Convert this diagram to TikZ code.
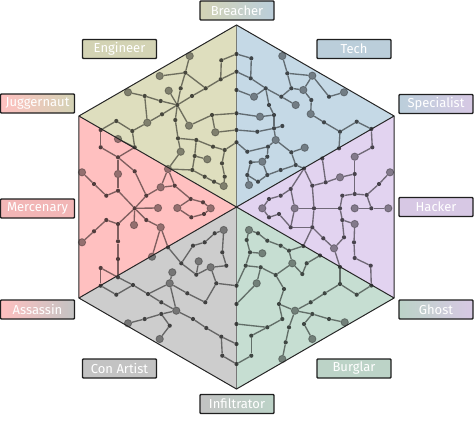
\documentclass[tikz,border=0pt]{standalone}
\usepackage{fontspec}
\setmainfont{Fira Sans}
\definecolor{cEng}{RGB}{222,222,190}
\definecolor{cTech}{RGB}{197,217,230}
\definecolor{cHack}{RGB}{226,211,240}
\definecolor{cBurg}{RGB}{198,222,210}
\definecolor{cCon}{RGB}{205,205,205}
\definecolor{cMerc}{RGB}{255,192,192}
\begin{document}
\begin{tikzpicture}[x=1pt,y=-1pt,
 dot/.style={circle,inner sep=0pt,minimum size=4.2pt,fill=black,fill opacity=0.68},
 bigdot/.style={circle,inner sep=0pt,minimum size=7.5pt,fill=black,fill opacity=0.42,draw=black,draw opacity=0.3,line width=0.8pt},
 link/.style={draw=black,draw opacity=0.5,line width=1.35pt},
 lbl/.style={rectangle,draw=black!88,line width=1.4pt,minimum width=74pt,minimum height=19pt,inner sep=0pt,text=white,font=\fontsize{13}{13}\selectfont,rounded corners=0.8pt},
 edge/.style={draw=black!85,line width=1pt}]
\useasboundingbox (0,0) rectangle (474,436);
\coordinate (C) at (236.5,207);
\coordinate (T) at (236.5,25);
\coordinate (UR) at (394.1,116);
\coordinate (LR) at (394.1,298);
\coordinate (B) at (236.5,389);
\coordinate (LL) at (78.9,298);
\coordinate (UL) at (78.9,116);
\fill[cEng] (T) -- (UL) -- (C) -- cycle;
\fill[cTech] (T) -- (UR) -- (C) -- cycle;
\fill[cHack] (UR) -- (LR) -- (C) -- cycle;
\fill[cBurg] (LR) -- (B) -- (C) -- cycle;
\fill[cCon] (B) -- (LL) -- (C) -- cycle;
\fill[cMerc] (LL) -- (UL) -- (C) -- cycle;
% small nodes
\foreach \n/\x/\y in {e2/185.3/72.7, e4/205.7/88.3, e5/221.3/60.3, e6/220.7/79.3, e7/236.5/71.7, e8/236.5/54, e10/144.7/96, e11/160.7/101, e13/180.7/88.3, e14/192/96, eh/177.3/105, e15/162/114.3, e17/132.3/131, e18/116.3/121, e19/100.7/130, e20/175.3/120, e22/212/115, e23/236.5/113.3, e25/236.5/130, e26/236.5/142.3, e27/178/138.3, e28/196.3/140, e30/194.7/156, e32/213/146.7, e33/224.7/150, e34/222/163.3, e35/214/181.7, e36/224.7/176.7, e38/192.3/170, e39/204.7/176.7,
 m3/100.7/147.3, m4/118/157.3, m5/134.7/147.3, m7/94/184, m8/106.3/195.7, m9/118/190.7, m11/134.7/171.3, m12/146.3/195.7, m15/174.7/185.7, mh/134.7/208.3, m18/146.3/220, m20/118/224, m21/106.3/220, m22/94/231.3, m24/118/241.3, m25/118/259, m26/100.7/268, m27/100.7/285.7, m28/118/277.3, m30/168/247.3, m32/190.7/199, m33/203/202.3, m35/204/214, m36/191.3/217.3,
 t2/287.3/73.3, t5/291.3/88.3, t6/281.3/96.7, t8/311.3/100, t9/329/96.7, t12/324/122.3, t13/340/131.7, t14/356.7/121.7, t15/371.3/129, t16/339/148.3, t17/251.3/58.3, t19/250.7/78.3, t20/236.5/90, t21/265.7/88.3, t23/269/105, t24/274/115, t27/274/128.3, t28/282.3/126, t30/257.3/131.7, t32/247.3/151.7, t33/268/146.7, t34/291.3/152.3, t36/267.3/156.7, t38/250.7/162.3, t39/247.3/175, t40/258/181.7, t42/267.3/175, t43/280.7/170, t44/295.7/165,
 h1/372.3/147.3, h4/354.7/174, h6/325.7/182.3, h7/322.3/158.5, h8/312.3/185.7, h9/304/168.5, h10/342.3/195.7, h11/354.7/194, h12/366.7/195, h13/379/184, h16/371.3/208.3, h18/340/208.3, h19/314/208.3, h22/269/199, h23/280.7/195.7, h24/290.7/189, h25/279/214, h26/269/217.3, h27/290.7/227.3, h28/312.3/227.3, h29/323.3/238.3, h31/342.3/220, h33/344/237.3, h34/354/242.3, h35/354.7/258, h36/370.7/265.7, h39/303.3/246,
 b2/258/233.3, b3/246.7/240, b4/250/252.3, b6/267.3/240.7, b7/280.7/245.7, b8/289/250.7, b10/302.3/274, b11/306.7/263.3, b13/320/255.5, b14/245.7/265.7, b15/260.7/267.3, b16/275.7/275, b18/236.5/285.7, b19/284/289, b20/279/304, b22/310.7/302.3, b23/324.7/293.3, b24/340/284, b25/340/267, b26/356.7/294.7, b27/371.3/285.5, b28/312.3/314, b29/329/319, b31/304/324, b33/282.3/319, b34/289/327.3, b35/267.3/327.3, b36/251.3/335.7, b37/251.3/355.7, b38/236.5/364, b39/285.7/342.3, b41/236.5/304, b42/236.5/324, b43/236.5/344,
 c2/181.3/263.3, c4/196.3/274.7, c6/193/245.7, c7/204.7/242.3, c8/214.7/233.3, c10/222.3/252.3, c11/226.3/265.7, c13/216.3/283.3, c17/116.3/294.7, c18/133/285, c19/148/294, c21/187.3/293.3, c22/205.3/302.3, c23/161.3/302.3, c25/161.3/314, c26/169.7/325.7, c28/144.7/319, c30/193/319, c31/206.3/328, c32/221.3/336.7, c34/222.3/355.7}
  \node[dot] (\n) at (\x,\y) {};
% big nodes
\foreach \n/\x/\y in {e1/189.7/56, e3/159.7/76, e9/128/92.3, e12/168.7/90.7, e16/147.3/122.7, e21/189/125.7, e24/215.3/132.3, e29/180.7/151.7, e31/207.3/159.3, e37/223.7/186, e40/168/169,
 m1/118/139, m6/82/172.3, m10/118/174, m13/160.7/187.3, m16/158/208, m17/134/225, m19/160.7/227.3, m23/82/242.3, m29/152/256.7, m31/177.3/208, m34/210.7/208.3,
 t1/282.3/56, t3/312.3/75.7, t4/303.3/90, t7/295.7/105, t10/344/92.3, t11/310.7/114, t22/254/96.7, t25/260/116.7, t29/275.7/140, t35/304.7/147.7, t37/262.3/161.7, t41/249/185,
 h3/354.7/156.7, h5/340/177.3, h14/390/172.3, h15/354.7/208.3, h17/388.3/208.3, h20/294.7/208.3, h21/262.3/208.3, h30/334/248.3, h32/354.7/224,
 b1/249/230, b5/262.3/253.3, b9/292.3/263.3, b17/256.7/283.3, b21/295/310.7, b30/344.7/322.3, b32/312.3/339, b40/282.3/359,
 c3/172.3/272.3, c5/198.7/261.3, c9/223.7/230, c12/210.7/267.3, c20/169.7/283.3, c24/176.3/310.7, c27/159.7/339, c29/128/323.3}
  \node[bigdot] (\n) at (\x,\y) {};
% connectors
\foreach \a/\b in {e1/e2, e2/e3, e2/e4, e4/e6, e6/e5, e5/e8, e6/e7, e2/e13, e13/eh, e12/eh, eh/e14, e14/e4, eh/e11, e11/e10, e10/e9, e10/e16, eh/e15, e15/e16, e16/e17, e17/e18, e18/e19, eh/e20, e20/e27, e27/e29, eh/e21, e21/e22, e22/e23, e22/e24, e24/e25, e27/e28, e28/e32, e32/e33, e33/e26, e33/e34, e34/e36, e36/e37, e28/e30, e30/e31, e30/e38, e38/e39, e39/e35, e35/e37, e29/e40, e40/e38, e17/m5,
 e19/m3, m3/m4, m1/m5, m4/m5, m4/m10, m10/m9, m9/m8, m8/m7, m7/m6, m4/m11, m11/m12, m12/mh, m12/m13, m13/e40, e40/m15, m15/m13, mh/m9, mh/m16, mh/m17, mh/m18, mh/m20, m20/m21, m21/m22, m22/m23, m20/m24, m24/m25, m25/m28, m28/m26, m26/m27, m18/m19, m19/m30, m15/m32, m31/m32, m32/m33, m33/m34, m34/m35, m35/m36, m36/m31, m19/m29,
 t1/t2, t2/t3, t2/t5, t3/t4, t3/t9, t9/t10, t4/t5, t5/t6, t4/t8, t6/t7, t8/t11, t11/t12, t12/t13, t13/t14, t14/t15, t13/t16, e8/t17, t17/t19, t19/e7, t19/t21, t21/t6, t21/t22, t22/t20, t21/t23, t23/t24, t24/t25, t25/e23, t24/t27, t27/t28, t27/t30, t30/e25, t27/t29, t29/t33, t33/t32, t32/e26, t33/t36, t36/t37, t29/t34, t34/t35, t34/t44, t44/h9, t44/t43, t43/t42, t42/t37, t37/t38, t38/t39, t39/t41, t39/t40, t40/t42,
 t15/h1, h1/h3, h3/h4, h4/h5, h5/h6, h6/h7, h6/h8, h8/h9, h8/h19, h19/h28, h4/h11, h11/h10, h10/h18, h11/h12, h12/h13, h13/h14, h12/h16, h15/h16, h16/h17, h19/h18, h20/h19, h20/h24, h24/h9, h24/h23, h23/h22, h22/h21, h21/h26, h26/h25, h25/h27, h20/h27, h27/h28, h28/h29, h29/h30, h30/b25, h18/h31, h31/h32, h32/h34, h34/h35, h35/h36, h36/b27, h31/h33, h33/h30, h28/h39,
 b1/b2, b1/b3, b3/b4, b4/b5, b2/b6, b6/b7, b7/b8, b8/b9, b9/b10, b10/b11, b11/b13, b8/h39, b4/b14, b14/b15, b15/b16, b16/b9, b14/b18, b15/b17, b16/b19, b19/b20, b20/b21, b21/b22, b22/b23, b23/b24, b24/b25, b24/b26, b26/b27, b21/b28, b28/b29, b29/b30, b21/b34, b34/b39, b39/b40, b20/b33, b33/b35, b35/b36, b36/b37, b37/b38, b17/b41, b35/b42, b28/b31, b31/b32,
 m30/c2, c2/c4, c4/c5, c4/c12, c2/c6, c6/c7, c7/c8, c8/c9, c9/c10, c10/c11, c11/c12, c12/c13, c13/b18, m27/c17, c17/c18, m28/c18, c18/c19, c19/c20, c20/c3, c20/c21, c21/c22, c22/c13, c19/c23, c23/c24, c20/c24, c24/c30, c30/c31, c31/c32, c32/b43, c32/c34, c34/b38, c24/c25, c25/c26, c26/c27, c25/c28, c28/c29}
  \draw[link] (\a) -- (\b);
% hexagon outline and spokes
\draw[edge] (C) -- (UL);
\draw[edge] (C) -- (UR);
\draw[edge] (C) -- (LL);
\draw[edge] (C) -- (LR);
\draw[edge,draw opacity=0.55] (C) -- (T);
\draw[edge,draw opacity=0.55] (C) -- (B);
\draw[edge] (T) -- (UR) -- (LR) -- (B) -- (LL) -- (UL) -- cycle;
% labels
\node[lbl,left color=cEng!95!black,right color=cTech!95!black] (lbreacher) at (237,10.5) {Breacher};
\node[lbl,fill=cEng!95!black] (lengineer) at (119.5,49) {Engineer};
\node[lbl,fill=cTech!95!black] (ltech) at (354,49) {Tech};
\node[lbl,left color=cMerc,right color=cEng!95!black] (ljugg) at (37.5,103.5) {Juggernaut};
\node[lbl,left color=cTech!95!black,right color=cHack!95!black] (lspec) at (436,104) {Specialist};
\node[lbl,fill=cMerc!95!black] (lmerc) at (37.5,208.5) {Mercenary};
\node[lbl,fill=cHack!95!black] (lhack) at (436,207) {Hacker};
\node[lbl,left color=cMerc,right color=cCon!95!black] (lass) at (37.5,309.5) {Assassin};
\node[lbl,left color=cBurg!95!black,right color=cHack!95!black] (lghost) at (436,309.5) {Ghost};
\node[lbl,fill=cCon!95!black] (lcon) at (119.5,368.5) {Con Artist};
\node[lbl,fill=cBurg!95!black] (lburg) at (354,368.5) {Burglar};
\node[lbl,left color=cCon!95!black,right color=cBurg!95!black] (linf) at (237,404) {Infiltrator};
\end{tikzpicture}
\end{document}
